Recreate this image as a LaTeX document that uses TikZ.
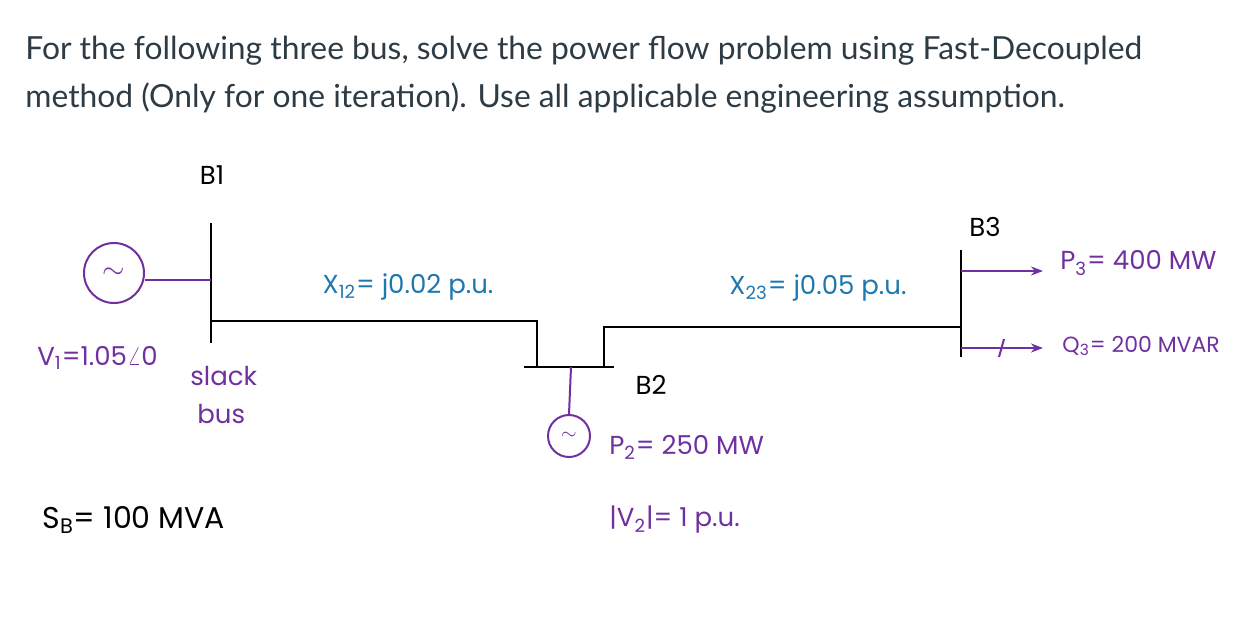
\documentclass[tikz,border=0pt]{standalone}
\usepackage{fontspec}
\setmainfont{Lato}
\newfontfamily\hand{Poppins}
\usetikzlibrary{arrows.meta}
\definecolor{inkpurple}{RGB}{112,48,160}
\definecolor{inkblue}{RGB}{30,120,175}
\definecolor{textgray}{RGB}{45,59,69}
\newcommand{\sub}[1]{\textsubscript{#1}}

\begin{document}
\begin{tikzpicture}[x=0.5pt, y=-0.5pt]
  \tikzset{
    busbar/.style={line width=1.4pt, black},
    wire/.style={line width=1pt, black},
    gen/.style={circle, draw=inkpurple, line width=1pt, inner sep=0pt, text=inkpurple},
    lbl/.style={font=\hand\fontsize{13}{15}\selectfont, text=inkpurple, inner sep=0pt},
    xlbl/.style={lbl, text=inkblue},
    load/.style={inkpurple, line width=1pt, -{Stealth[length=6pt]}}
  }
  \useasboundingbox (0,0) rectangle (1256,622);
  % title
  \node[anchor=north west, align=left, text=textgray, inner sep=0pt,
        font=\fontsize{15.9}{24}\selectfont] (title) at (25,36)
    {For the following three bus, solve the power flow problem using Fast-Decoupled\\
     method (Only for one iteration). Use all applicable engineering assumption.};
  % buses
  \coordinate (b1t) at (211,223); \coordinate (b1b) at (211,343);
  \coordinate (b2l) at (524,367); \coordinate (b2r) at (614,367);
  \coordinate (b3t) at (961,250); \coordinate (b3b) at (961,357);
  \draw[busbar] (b1t) -- (b1b);
  \draw[busbar] (b2l) -- (b2r);
  \draw[busbar] (b3t) -- (b3b);
  \node[lbl, text=black] (B1) at (212,175) {B1};
  \node[lbl, text=black] (B2) at (651,385) {B2};
  \node[lbl, text=black] (B3) at (985,227) {B3};
  % lines
  \coordinate (l12a) at (211,321); \coordinate (l12b) at (537,321);
  \coordinate (l12c) at (537,367);
  \draw[wire] (l12a) -- (l12b) -- (l12c);
  \coordinate (l23a) at (604,367); \coordinate (l23b) at (604,327);
  \coordinate (l23c) at (961,327);
  \draw[wire] (l23a) -- (l23b) -- (l23c);
  \node[xlbl] (X12) at (408,287) {X\sub{12}= j0.02 p.u.};
  \node[xlbl] (X23) at (818,288) {X\sub{23}= j0.05 p.u.};
  % generators
  \node[gen, minimum size=30pt] (G1) at (114,273) {\Large$\sim$};
  \coordinate (g1b) at (211,280);
  \draw[inkpurple, line width=1pt] (G1.east |- g1b) -- (g1b);
  \node[gen, minimum size=21pt] (G2) at (569,436) {$\sim$};
  \coordinate (g2b) at (571,367);
  \draw[inkpurple, line width=1pt] (g2b) -- (G2.north);
  % loads
  \coordinate (p3a) at (961,271); \coordinate (p3b) at (1043,271);
  \coordinate (q3a) at (961,348); \coordinate (q3b) at (1043,348);
  \draw[load] (p3a) -- (p3b);
  \draw[load] (q3a) -- (q3b);
  \draw[inkpurple, line width=1pt] (1004,339) -- (999,357);
  \node[lbl, anchor=west] (P3) at (1060,263) {P\sub{3}= 400 MW};
  \node[lbl, anchor=west, font=\hand\fontsize{11}{13}\selectfont] (Q3) at (1062,346) {Q\sub{3}= 200 MVAR};
  % data
  \node[lbl, anchor=west] (V1) at (37,358) {V\sub{1}=1.05$\angle$0};
  \node[lbl, align=left, anchor=west] (slack) at (190,395) {slack\\[4pt]\ bus};
  \node[lbl, anchor=west] (P2) at (609,447) {P\sub{2}= 250 MW};
  \node[lbl, anchor=west] (V2) at (609,520) {|V\sub{2}|= 1 p.u.};
  \node[lbl, anchor=west, text=black, font=\hand\fontsize{15}{17}\selectfont] (SB) at (42,520) {S\sub{B}= 100 MVA};
\end{tikzpicture}
\end{document}
